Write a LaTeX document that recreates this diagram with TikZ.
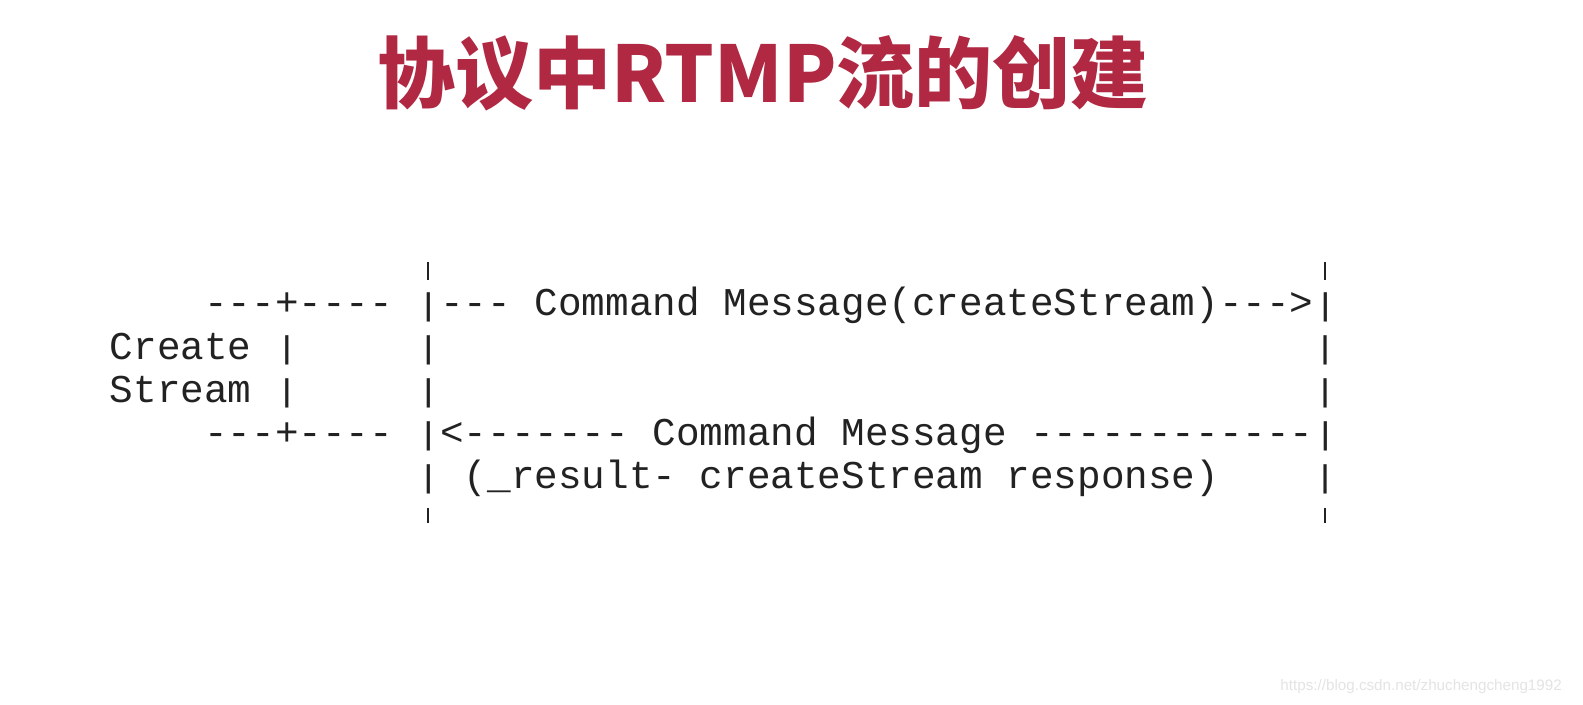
\documentclass[tikz,border=0pt]{standalone}
\usepackage{fontspec}
\usepackage{graphicx}
\setmonofont{Liberation Mono}
\newfontfamily\cjk{Noto Sans CJK SC}
\newfontfamily\wmfont{Liberation Sans}
\definecolor{titlered}{RGB}{176,40,66}
\definecolor{ink}{RGB}{34,34,34}
\definecolor{wmgray}{RGB}{228,228,228}
\tikzset{
  asc/.style={inner sep=0pt, anchor=base west, text=ink,
    font=\ttfamily\fontsize{19.67}{20}\selectfont},
  frag/.style={draw=ink, line width=1pt},
}
\newcommand{\cx}[1]{109.4+#1*23.6}
\newcommand{\vb}{\raisebox{0.3pt}{\scalebox{1}[0.8]{|}}}
\begin{document}
\begin{tikzpicture}[x=0.5pt,y=-0.5pt]
\fill[white] (0,0) rectangle (1583,705);
\useasboundingbox (0,0) rectangle (1583,705);
% title
\node[inner sep=0pt, text=titlered, font=\cjk\bfseries\fontsize{39}{44}\selectfont] (title) at (763,73) {协议中RTMP流的创建};
% top fragments
\coordinate (ta1) at ({\cx{13.5}},262); \coordinate (ta2) at ({\cx{13.5}},280);
\coordinate (tb1) at ({\cx{51.5}},262); \coordinate (tb2) at ({\cx{51.5}},280);
\draw[frag] (ta1) -- (ta2);
\draw[frag] (tb1) -- (tb2);
% line 1
\node[asc] (l1a) at ({\cx{4}},316) {---+----};
\node[asc] (l1b) at ({\cx{13}},316) {\vb--- Command Message(createStream)--->\vb};
% line 2
\node[asc] (l2a) at ({\cx{0}},359) {Create \vb};
\node[asc] (l2b) at ({\cx{13}},359) {\vb};
\node[asc] (l2c) at ({\cx{51}},359) {\vb};
% line 3
\node[asc] (l3a) at ({\cx{0}},402) {Stream \vb};
\node[asc] (l3b) at ({\cx{13}},402) {\vb};
\node[asc] (l3c) at ({\cx{51}},402) {\vb};
% line 4
\node[asc] (l4a) at ({\cx{4}},445) {---+----};
\node[asc] (l4b) at ({\cx{13}},445) {\vb<------- Command Message ------------\vb};
% line 5
\node[asc] (l5a) at ({\cx{13}},488) {\vb};
\node[asc] (l5b) at ({\cx{15}},488) {(\_result- createStream response)};
\node[asc] (l5c) at ({\cx{51}},488) {\vb};
% bottom fragments
\coordinate (ba1) at ({\cx{13.5}},508); \coordinate (ba2) at ({\cx{13.5}},523);
\coordinate (bb1) at ({\cx{51.5}},508); \coordinate (bb2) at ({\cx{51.5}},523);
\draw[frag] (ba1) -- (ba2);
\draw[frag] (bb1) -- (bb2);
% watermark
\node[inner sep=0pt, anchor=west, text=wmgray, font=\wmfont\fontsize{7.6}{9}\selectfont] (wm) at (1280,687) {https://blog.csdn.net/zhuchengcheng1992};
\end{tikzpicture}
\end{document}
